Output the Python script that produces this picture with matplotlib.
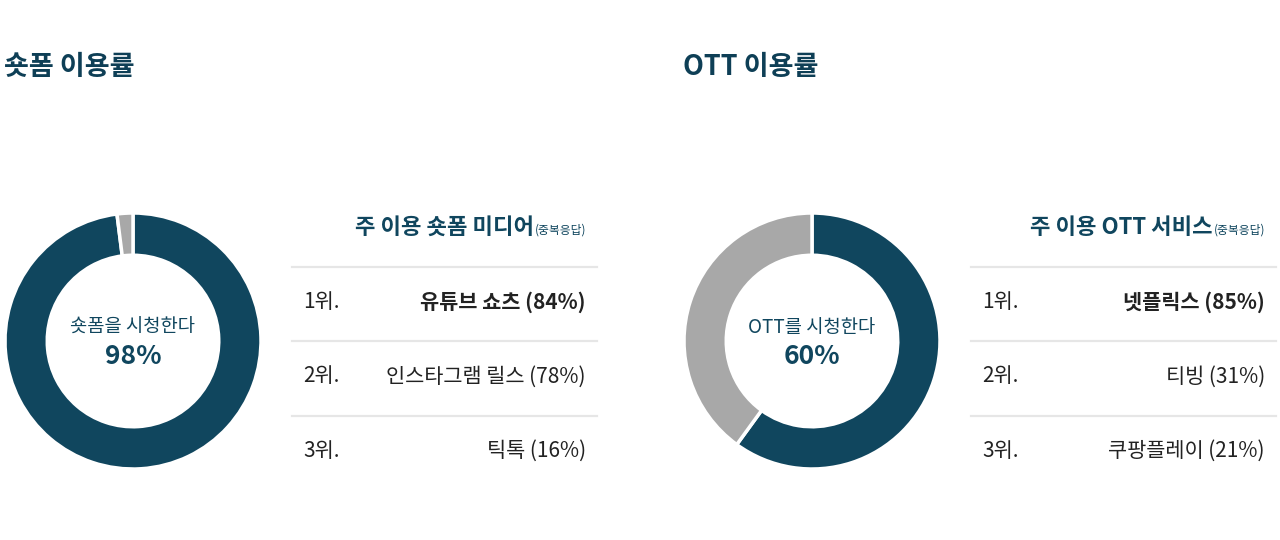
import matplotlib
matplotlib.use('Agg')
import matplotlib.pyplot as plt

plt.rcParams['font.family'] = ['Noto Sans CJK KR', 'DejaVu Sans']

# data
short_title = '숏폼 이용률'
short_center = '숏폼을 시청한다'
short_share = [98, 2]
short_header = '주 이용 숏폼 미디어'
short_names = ['유튜브 쇼츠', '인스타그램 릴스', '틱톡']
short_pct = [84, 78, 16]

ott_title = 'OTT 이용률'
ott_center = 'OTT를 시청한다'
ott_share = [60, 40]
ott_header = '주 이용 OTT 서비스'
ott_names = ['넷플릭스', '티빙', '쿠팡플레이']
ott_pct = [85, 31, 21]

W, H = 1280, 540
TEAL = '#10465e'
GRAY = '#a8a8a8'
TEXT = '#222222'
LINE = '#e6e6e6'

fig = plt.figure(figsize=(W / 100, H / 100), dpi=100)


def px(x, y):
    # pixel coords (top-left origin) -> figure fraction
    return x / W, 1 - y / H


def panel(x0, title, center, share, header, names, pct):
    tx, ty = px(x0 + 4, 67)
    fig.text(tx, ty, title, fontsize=19.5, fontweight='bold', color='#0e3f56',
             ha='left', va='center')

    # donut
    cx, cy, r = x0 + 133, 341, 128
    ax = fig.add_axes([(cx - r) / W, (H - cy - r) / H, 2 * r / W, 2 * r / H])
    ax.pie(share, colors=[TEAL, GRAY], startangle=90, counterclock=False,
           radius=1.0, wedgeprops=dict(width=0.33, edgecolor='white', linewidth=2.5))
    ax.set_xlim(-1, 1)
    ax.set_ylim(-1, 1)
    ax.set_aspect('equal')
    ax.axis('off')
    a, b = px(cx, 327)
    fig.text(a, b, center, fontsize=13.5, color=TEAL, ha='center', va='center')
    a, b = px(cx, 356)
    fig.text(a, b, f'{share[0]}%', fontsize=19, fontweight='bold', color=TEAL,
             ha='center', va='center')

    # table
    right = x0 + 586
    a, b = px(right, 230)
    fig.text(a, b, '(중복응답)', fontsize=8.5, color=TEAL, ha='right', va='center')
    a, b = px(right - 52, 227)
    fig.text(a, b, header, fontsize=16, fontweight='bold', color=TEAL,
             ha='right', va='center')
    for ly in [267, 341, 416]:
        x1, y1 = px(x0 + 292, ly)
        x2, _ = px(x0 + 597, ly)
        fig.add_artist(plt.Line2D([x1, x2], [y1, y1], color=LINE, linewidth=1.6))
    for i, (n, p) in enumerate(zip(names, pct)):
        ry = 302 + i * 74.5
        a, b = px(x0 + 303, ry)
        fig.text(a, b, f'{i + 1}위.', fontsize=15, color=TEXT, ha='left', va='center')
        a, b = px(right, ry)
        fig.text(a, b, f'{n} ({p}%)', fontsize=15, color=TEXT, ha='right', va='center',
                 fontweight='bold' if i == 0 else 'normal')


panel(0, short_title, short_center, short_share, short_header, short_names, short_pct)
panel(679, ott_title, ott_center, ott_share, ott_header, ott_names, ott_pct)

fig.savefig('out.png', dpi=100, facecolor='white')
